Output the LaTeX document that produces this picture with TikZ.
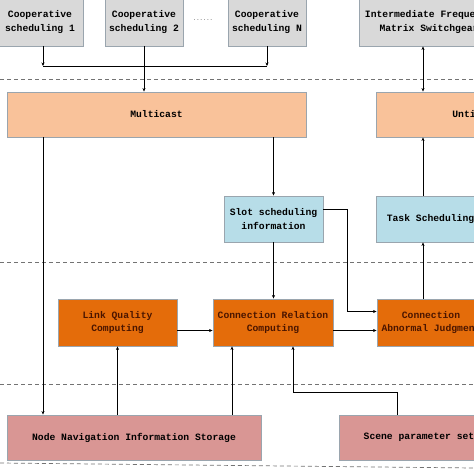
\documentclass[tikz,border=0pt]{standalone}
\usepackage{fontspec}
\setmainfont{Liberation Mono}
\usetikzlibrary{arrows.meta}
\definecolor{grayfill}{HTML}{D9D9D9}
\definecolor{peach}{HTML}{F9C29A}
\definecolor{lightblue}{HTML}{B7DDE8}
\definecolor{darkorange}{HTML}{E46C0A}
\definecolor{rose}{HTML}{D99694}
\definecolor{brownink}{HTML}{4A1500}
\definecolor{edge}{HTML}{9AA5AE}
\begin{document}
\begin{tikzpicture}[x=1pt,y=-1pt,
    box/.style={draw=edge,line width=0.9pt,align=center,inner sep=0pt,
        font=\fontsize{9.7}{13.5}\selectfont\bfseries},
    grey/.style={box,fill=grayfill,minimum height=48pt},
    cast/.style={box,fill=peach,minimum height=45pt},
    sched/.style={box,fill=lightblue,minimum height=46pt},
    comp/.style={box,fill=darkorange,text=brownink,minimum height=47pt},
    store/.style={box,fill=rose,minimum height=45pt},
    sep/.style={draw=black!55,dashed,dash pattern=on 4pt off 3pt,line width=0.7pt},
    >={Stealth[length=3.5pt,width=3pt]}]
    \useasboundingbox (0,0) rectangle (474,474);
    \clip (0,0) rectangle (474,474);

    % layer separators
    \draw[sep] (0,79) -- (474,79);
    \draw[sep] (0,262) -- (474,262);
    \draw[sep] (0,384) -- (474,384);
    \draw[sep] (0,463) -- (474,468);

    \node[grey,minimum width=86pt] (c1) at (40,22) {Cooperative\\scheduling 1};
    \node[grey,minimum width=78pt] (c2) at (144,22) {Cooperative\\scheduling 2};
    \node[font=\fontsize{5.5}{6}\selectfont,text=black!70] (dots) at (203,20) {......};
    \node[grey,minimum width=78pt] (cN) at (267,22) {Cooperative\\scheduling N};
    \node[grey,minimum width=140pt] (ifms) at (429,22) {Intermediate Frequency\\Matrix Switchgear};

    \node[cast,minimum width=299pt] (multi) at (156.5,114.5) {Multicast};
    \node[cast,minimum width=176pt] (uni) at (464,114.5) {Unti};

    \node[sched,minimum width=99pt] (slot) at (273.5,219) {Slot scheduling\\information};
    \node[sched,minimum width=109pt] (task) at (430.5,219) {Task Scheduling};

    \node[comp,minimum width=119pt] (link) at (117.5,322.5) {Link Quality\\Computing};
    \node[comp,minimum width=120pt] (rel) at (273,322.5) {Connection Relation\\Computing};
    \node[comp,minimum width=108pt] (abn) at (431,322.5) {Connection\\Abnormal Judgment};

    \node[store,minimum width=254pt] (nav) at (134,437.5) {Node Navigation Information Storage};
    \node[store,minimum width=160pt] (scene) at (419,437.5) {Scene parameter set};

    \coordinate (busL) at (43,66);
    \coordinate (busR) at (cN.south |- busL);
    \coordinate (rx) at (423,0);
    \coordinate (nx) at (232,0);
    \coordinate (sk1) at (397,392);
    \coordinate (sk2) at (293,392);

    \path[draw,->] (c1.south -| busL) -- (busL);
    \path[draw,->] (cN.south) -- (busR);
    \path[draw] (busL) -- (busR);
    \path[draw,->] (c2.south) -- (c2.south |- multi.north);
    \path[draw,<->] (ifms.south -| rx) -- (uni.north -| rx);

    \path[draw,->] (multi.south -| busL) -- (nav.north -| busL);
    \path[draw,->] (slot.north |- multi.south) -- (slot.north);
    \path[draw,->] (task.north -| rx) -- (uni.south -| rx);

    \path[draw,->] (slot.south) -- (slot.south |- rel.north);
    \path[draw,->] ([yshift=10pt]slot.east) -- ++(24,0) |- ([yshift=11pt]abn.west);
    \path[draw,->] (abn.north -| rx) -- (task.south -| rx);
    \path[draw,->] ([yshift=-8pt]link.east) -- ([yshift=-8pt]rel.west);
    \path[draw,->] ([yshift=-8pt]rel.east) -- ([yshift=-8pt]abn.west);

    \path[draw,->] (link.south |- nav.north) -- (link.south);
    \path[draw,->] (nav.north -| nx) -- (rel.south -| nx);
    \path[draw,->] (scene.north -| sk1) -- (sk1) -- (sk2) -- (rel.south -| sk2);
\end{tikzpicture}
\end{document}
